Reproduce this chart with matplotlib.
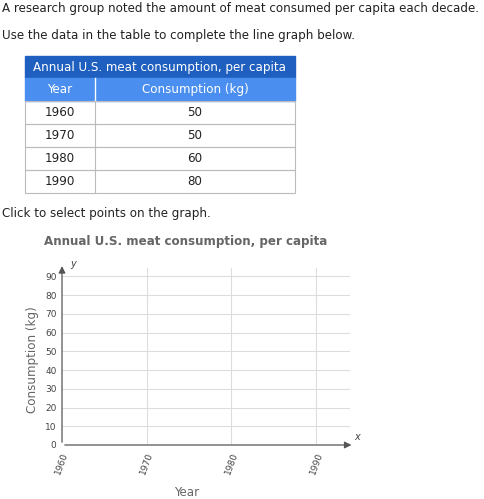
import matplotlib
matplotlib.use("Agg")
import matplotlib.pyplot as plt
from matplotlib.patches import Rectangle

years = [1960, 1970, 1980, 1990]
consumption = [50, 50, 60, 80]
yticks = list(range(0, 100, 10))

W, H = 485, 499
fig = plt.figure(figsize=(W/100, H/100), dpi=100)
bg = fig.add_axes([0, 0, 1, 1])
bg.set_xlim(0, W); bg.set_ylim(H, 0); bg.axis("off")

tc = "#222222"
bg.text(2, 8, "A research group noted the amount of meat consumed per capita each decade.", fontsize=8.6, va="center", color=tc)
bg.text(2, 35, "Use the data in the table to complete the line graph below.", fontsize=8.6, va="center", color=tc)

# table
x0, x1, xd = 25, 295, 95
bg.add_patch(Rectangle((x0, 56), x1-x0, 22, color="#1f5fbf"))
bg.text((x0+x1)/2, 67, "Annual U.S. meat consumption, per capita", color="white", fontsize=8.6, ha="center", va="center")
bg.add_patch(Rectangle((x0, 78), x1-x0, 23, color="#4a8ff0"))
bg.plot([xd, xd], [78, 101], color="white", lw=1)
bg.text((x0+xd)/2, 89.5, "Year", color="white", fontsize=8.6, ha="center", va="center")
bg.text((xd+x1)/2, 89.5, "Consumption (kg)", color="white", fontsize=8.6, ha="center", va="center")
for i, (yr, c) in enumerate(zip(years, consumption)):
    top = 101 + 23*i
    bg.add_patch(Rectangle((x0, top), x1-x0, 23, fill=False, ec="#bbbbbb", lw=0.8))
    bg.plot([xd, xd], [top, top+23], color="#bbbbbb", lw=0.8)
    bg.text((x0+xd)/2, top+11.5, str(yr), fontsize=8.6, ha="center", va="center", color=tc)
    bg.text((xd+x1)/2, top+11.5, str(c), fontsize=8.6, ha="center", va="center", color=tc)

bg.text(2, 213, "Click to select points on the graph.", fontsize=8.6, va="center", color=tc)
bg.text(186, 241, "Annual U.S. meat consumption, per capita", fontsize=8.6, fontweight="bold",
        ha="center", va="center", color="#666666")
bg.text(33, 360, "Consumption (kg)", fontsize=8.6, rotation=90, ha="center", va="center", color="#666666")
bg.text(187, 493, "Year", fontsize=8.6, ha="center", va="center", color="#666666")

ax = fig.add_axes([62/W, (H-445)/H, (350-62)/W, (445-268)/H])
ax.set_xlim(1960, 1994); ax.set_ylim(0, 94.5)
for s in ax.spines.values(): s.set_visible(False)
ax.set_yticks(yticks)
ax.set_yticklabels([str(t) for t in yticks], fontsize=6.5, color="#444444")
ax.set_xticks(years)
ax.set_xticklabels([str(y) for y in years], fontsize=6.5, rotation=70, color="#444444")
ax.tick_params(length=0, pad=4)
for t in yticks[1:]:
    ax.axhline(t, color="#dddddd", lw=0.8, zorder=0)
for y in years[1:]:
    ax.axvline(y, color="#dddddd", lw=0.8, zorder=0)
ax.annotate("", xy=(1994.5, 0), xytext=(1960, 0), xycoords="data",
            arrowprops=dict(arrowstyle="-|>", color="#555555", lw=0.9), annotation_clip=False)
ax.annotate("", xy=(1960, 97), xytext=(1960, 0),
            arrowprops=dict(arrowstyle="-|>", color="#555555", lw=0.9), annotation_clip=False)
ax.text(1994.5, 2.5, "x", fontsize=7, style="italic", color="#444444")
ax.text(1961, 95, "y", fontsize=7, style="italic", color="#444444")

fig.savefig("out.png", dpi=100)
